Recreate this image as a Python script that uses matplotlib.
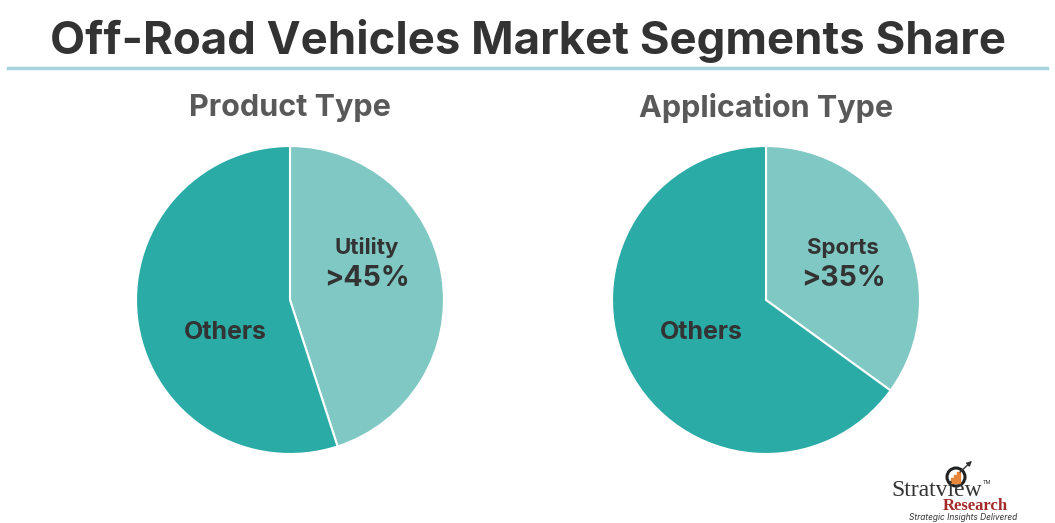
import matplotlib.pyplot as plt
from matplotlib.patches import Circle, Rectangle

# segment shares
product_labels = ['Utility', 'Others']
product_values = [45, 55]
application_labels = ['Sports', 'Others']
application_values = [35, 65]

title = 'Off-Road Vehicles Market Segments Share'
light_teal = '#7FC8C4'
dark_teal = '#2AABA5'
W, H = 1055, 523

fig = plt.figure(figsize=(W / 100, H / 100), dpi=100)
plt.rcParams['font.family'] = ['Inter', 'DejaVu Sans']

fig.text(0.5, 1 - 41 / H, title, ha='center', va='center', fontsize=32.8,
         fontweight='bold', color='#333333')
fig.add_artist(plt.Line2D([8 / W, 1047 / W], [1 - 68 / H, 1 - 68 / H],
                          color='#A9D3DB', lw=2.5))


def draw_pie(cx, heading, labels, values):
    r = 154
    ax = fig.add_axes([(cx - r) / W, 1 - (300 + r) / H, 2 * r / W, 2 * r / H])
    ax.pie(values, colors=[light_teal, dark_teal], startangle=90, counterclock=False,
           radius=1, wedgeprops=dict(edgecolor='white', linewidth=1.5))
    ax.set_xlim(-1, 1)
    ax.set_ylim(-1, 1)
    ax.set_aspect('equal')
    ax.axis('off')
    ax.text(0.5, 0.34, labels[0], ha='center', va='center', fontsize=16,
            fontweight='bold', color='#333333')
    ax.text(0.5, 0.14, '>%d%%' % values[0], ha='center', va='center', fontsize=20.5,
            fontweight='bold', color='#333333')
    ax.text(-0.42, -0.21, labels[1], ha='center', va='center', fontsize=18,
            fontweight='bold', color='#333333')
    fig.text(cx / W, 1 - 108 / H, heading, ha='center', va='center', fontsize=22,
             fontweight='bold', color='#595959')


draw_pie(290, 'Product Type', product_labels, product_values)
draw_pie(766, 'Application Type', application_labels, application_values)

# logo
fig.text(937 / W, 1 - 490 / H, 'Stratview', ha='center', va='center', fontsize=17,
         family='Liberation Serif', color='#333333')
fig.text(987 / W, 1 - 482 / H, 'TM', ha='center', va='center', fontsize=4,
         color='#333333')
fig.text(975 / W, 1 - 506 / H, 'Research', ha='center', va='center', fontsize=12,
         family='Liberation Serif', fontweight='bold', color='#A52A2A')
fig.text(963 / W, 1 - 518 / H, 'Strategic Insights Delivered', ha='center', va='center',
         fontsize=6, style='italic', color='#333333')
lax = fig.add_axes([945 / W, 1 - 488 / H, 30 / W, 30 / H])
lax.set_xlim(0, 30)
lax.set_ylim(0, 30)
lax.axis('off')
lax.add_patch(Circle((11, 11), 9, fill=False, lw=2.2, color='#222222'))
for i, h in enumerate([5, 8, 11]):
    lax.add_patch(Rectangle((6 + i * 3.2, 5), 2.4, h, color='#E8873A'))
lax.annotate('', xy=(29, 29), xytext=(13, 14),
             arrowprops=dict(arrowstyle='-|>', color='#333333', lw=1, mutation_scale=7))

fig.savefig('out.png', dpi=100)
